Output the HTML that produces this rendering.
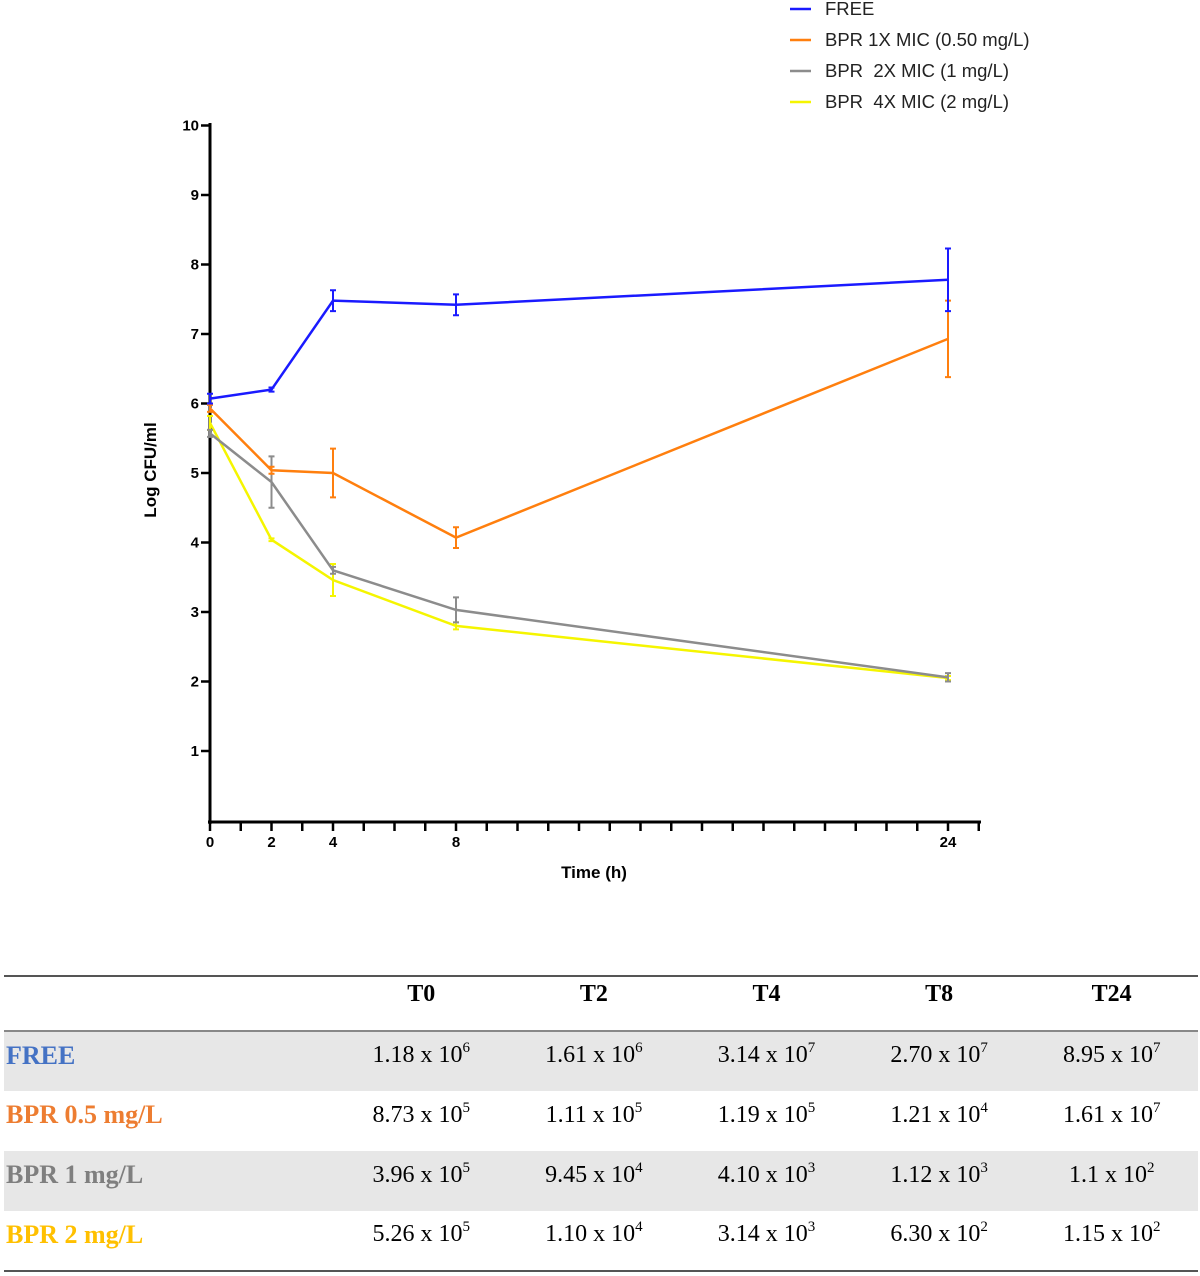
<!DOCTYPE html>
<html><head><meta charset="utf-8"><style>
body{margin:0;width:1200px;height:1276px;background:#fff;position:relative;overflow:hidden;font-family:"Liberation Sans",sans-serif}
svg{position:absolute;left:0;top:0}
table{position:absolute;left:4px;top:975px;width:1194px;border-collapse:collapse;font-family:"Liberation Serif",serif;font-size:24px}
td,th{height:60px;padding:0 0 12px 0;text-align:center;box-sizing:border-box}
th{height:55px;font-weight:bold;font-size:24px;padding-bottom:18px}
thead tr{border-top:2px solid #555;border-bottom:2px solid #888}
tbody tr:last-child{border-bottom:2px solid #555}
tr.g td{background:#e7e7e7}
td.l{text-align:left;font-weight:bold;font-size:26px;width:331px;padding-left:2px}
sup{font-size:15px;vertical-align:10px;line-height:0}
</style></head><body>
<svg id="chart" width="1200" height="960"></svg>
<table>
<thead><tr><th></th><th>T0</th><th>T2</th><th>T4</th><th>T8</th><th>T24</th></tr></thead>
<tbody>
<tr class="g"><td class="l" style="color:#4472C4">FREE</td><td>1.18 x 10<sup>6</sup></td><td>1.61 x 10<sup>6</sup></td><td>3.14 x 10<sup>7</sup></td><td>2.70 x 10<sup>7</sup></td><td>8.95 x 10<sup>7</sup></td></tr>
<tr><td class="l" style="color:#ED7D31">BPR 0.5 mg/L</td><td>8.73 x 10<sup>5</sup></td><td>1.11 x 10<sup>5</sup></td><td>1.19 x 10<sup>5</sup></td><td>1.21 x 10<sup>4</sup></td><td>1.61 x 10<sup>7</sup></td></tr>
<tr class="g"><td class="l" style="color:#7F7F7F">BPR 1 mg/L</td><td>3.96 x 10<sup>5</sup></td><td>9.45 x 10<sup>4</sup></td><td>4.10 x 10<sup>3</sup></td><td>1.12 x 10<sup>3</sup></td><td>1.1 x 10<sup>2</sup></td></tr>
<tr><td class="l" style="color:#FFC000">BPR 2 mg/L</td><td>5.26 x 10<sup>5</sup></td><td>1.10 x 10<sup>4</sup></td><td>3.14 x 10<sup>3</sup></td><td>6.30 x 10<sup>2</sup></td><td>1.15 x 10<sup>2</sup></td></tr>
</tbody></table>
<script>
const times=[0,2,4,8,24];
const seriesNames=["FREE","BPR 1X MIC (0.50 mg/L)","BPR  2X MIC (1 mg/L)","BPR  4X MIC (2 mg/L)"];
const seriesColors=["#1a1aff","#ff7f0e","#8c8c8c","#f5f500"];
const freeVals=[6.07,6.2,7.48,7.42,7.78];
const freeErr=[0.07,0.03,0.15,0.15,0.45];
const bpr1Vals=[5.93,5.04,5.0,4.07,6.93];
const bpr1Err=[0.05,0.05,0.35,0.15,0.55];
const bpr2Vals=[5.57,4.87,3.6,3.03,2.06];
const bpr2Err=[0.05,0.37,0.05,0.18,0.06];
const bpr4Vals=[5.72,4.04,3.46,2.8,2.05];
const bpr4Err=[0.1,0.02,0.23,0.05,0.03];
const yTicks=[1,2,3,4,5,6,7,8,9,10];
const xLabels=[0,2,4,8,24];
const NS="http://www.w3.org/2000/svg";
const svg=document.getElementById('chart');
const X=t=>210+t*30.75, Y=v=>820.5-v*69.5;
function mk(tag,a,parent){const e=document.createElementNS(NS,tag);for(const k in a)e.setAttribute(k,a[k]);(parent||svg).appendChild(e);return e;}
let e;
e=mk('line',{x1:210,y1:123,x2:210,y2:824,stroke:'#000','stroke-width':3});


e=mk('line',{x1:208,y1:822,x2:981,y2:822,stroke:'#000','stroke-width':3});


for(let h=0;h<=25;h++){mk('line',{x1:X(h),y1:822,x2:X(h),y2:831,stroke:'#000','stroke-width':2.5});}
xLabels.forEach(t=>{e=mk('text',{x:X(t),y:847,'text-anchor':'middle','font-size':15,'font-weight':'bold'});e.textContent=t;

});
yTicks.forEach(v=>{mk('line',{x1:201,y1:Y(v),x2:210,y2:Y(v),stroke:'#000','stroke-width':2.5});
e=mk('text',{x:199,y:Y(v)+5,'text-anchor':'end','font-size':15,'font-weight':'bold'});e.textContent=v;

});
e=mk('text',{x:594,y:878,'text-anchor':'middle','font-size':17,'font-weight':'bold'});e.textContent='Time (h)';


e=mk('text',{x:0,y:0,transform:'translate(156,470) rotate(-90)','text-anchor':'middle','font-size':17,'font-weight':'bold'});e.textContent='Log CFU/ml';


const allVals=[freeVals,bpr1Vals,bpr2Vals,bpr4Vals], allErr=[freeErr,bpr1Err,bpr2Err,bpr4Err];
[3,2,1,0].forEach(i=>{
  const c=seriesColors[i];
  e=mk('polyline',{points:times.map((t,j)=>X(t)+','+Y(allVals[i][j])).join(' '),fill:'none',stroke:c,'stroke-width':2.5});
  
  
  times.forEach((t,j)=>{const v=allVals[i][j],er=allErr[i][j],x=X(t);
    e=mk('path',{d:`M${x},${Y(v+er)}V${Y(v-er)}M${x-3},${Y(v+er)}h6M${x-3},${Y(v-er)}h6`,stroke:c,'stroke-width':2,fill:'none'});
    
    
  });
});
seriesNames.forEach((n,i)=>{const y=9+i*31;
  const g=mk('g',{});
  
  
  mk('line',{x1:790,y1:y,x2:811,y2:y,stroke:seriesColors[i],'stroke-width':2.5},g);
  const t=mk('text',{x:825,y:y+6,'font-size':18.5,fill:'#222',style:'white-space:pre'},g);t.textContent=n;});
</script>
</body></html>
